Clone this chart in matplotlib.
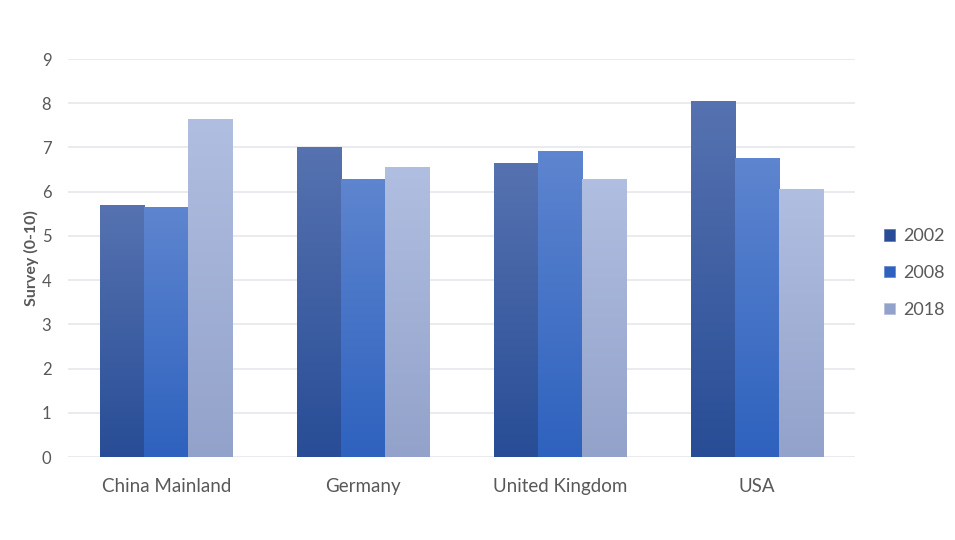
import numpy as np
import matplotlib
matplotlib.use("Agg")
import matplotlib.pyplot as plt
from matplotlib.colors import LinearSegmentedColormap
from matplotlib.patches import Patch

countries = ["China Mainland", "Germany", "United Kingdom", "USA"]
years = ["2002", "2008", "2018"]
v2002 = [5.68, 7.01, 6.63, 8.03]
v2008 = [5.65, 6.27, 6.90, 6.75]
v2018 = [7.64, 6.55, 6.27, 6.04]

# (top colour, bottom colour) of the gradient fill for each series
grads = [("#5672B0", "#284D96"),
         ("#5E85CF", "#2E62BE"),
         ("#B0BEE1", "#93A2CA")]

plt.rcParams['font.family'] = ['Lato', 'DejaVu Sans']
txt = "#595959"

fig = plt.figure(figsize=(9.55, 5.4), dpi=100)
ax = fig.add_axes([68/955, 1-457/540, (855-68)/955, (457-59)/540])

x = np.arange(len(countries))
w = 0.224
series = [v2002, v2008, v2018]
for i, vals in enumerate(series):
    bars = ax.bar(x + (i-1)*w, vals, w, color="none", edgecolor="none", zorder=3)
    cmap = LinearSegmentedColormap.from_list("g%d" % i, [grads[i][1], grads[i][0]])
    for b in bars:
        x0, y0 = b.get_x(), b.get_y()
        x1, y1 = x0 + b.get_width(), y0 + b.get_height()
        grad = np.linspace(0, 1, 256).reshape(-1, 1)
        ax.imshow(grad, cmap=cmap, origin="lower", aspect="auto",
                  extent=(x0, x1, y0, y1), zorder=3, interpolation="bilinear")

ax.set_xlim(-0.5, len(countries)-0.5)
ax.set_ylim(0, 9)
ax.set_yticks(range(10))
ax.set_xticks(x)
ax.set_xticklabels(countries, fontsize=13.5)
ax.yaxis.grid(True, color="#E3E5EA", lw=1.1, zorder=0)
ax.set_axisbelow(True)
for s in ax.spines.values():
    s.set_visible(False)
ax.tick_params(length=0, colors=txt)
ax.tick_params(axis="y", pad=12, labelsize=12)
ax.tick_params(axis="x", pad=15)
ax.set_ylabel("Survey (0-10)", fontsize=11.5, fontweight="bold", color=txt, labelpad=2)

handles = [Patch(facecolor=grads[i][1], edgecolor=grads[i][0], lw=0.5) for i in range(3)]
fig.legend(handles, years, loc="center left", bbox_to_anchor=(884/955, 1-273/540),
           frameon=False, fontsize=13, labelcolor=txt, handlelength=0.6,
           handleheight=0.6, handletextpad=0.45, labelspacing=1.15, borderpad=0,
           borderaxespad=0)

fig.savefig("out.png", dpi=100)
